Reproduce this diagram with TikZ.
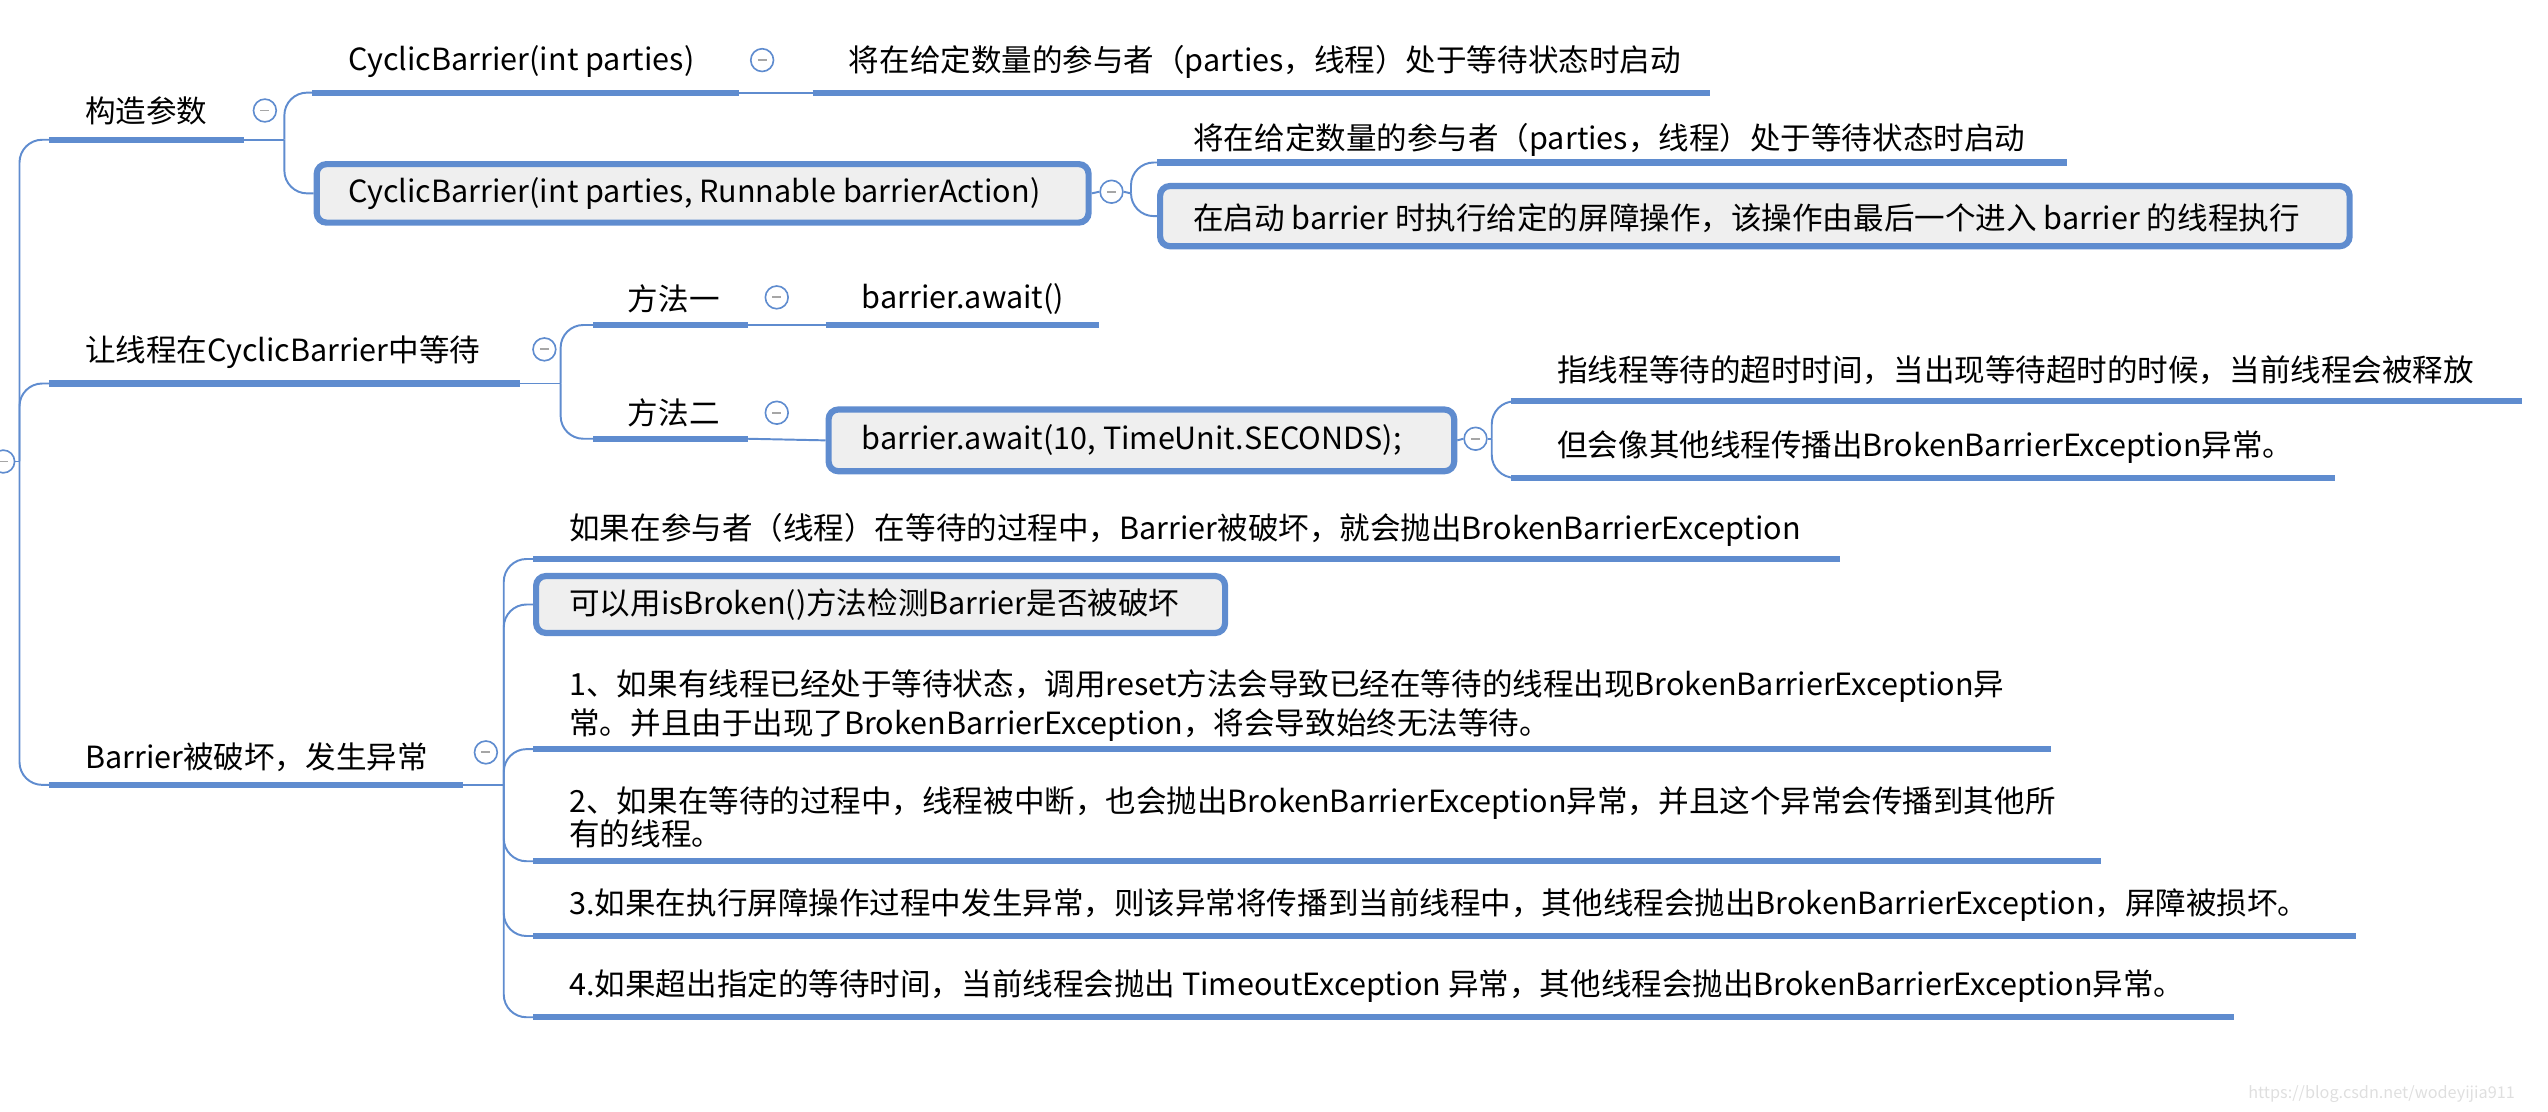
\documentclass[tikz,border=0pt]{standalone}
\usepackage{fontspec}
\setmainfont{Noto Sans CJK SC}
\definecolor{mb}{HTML}{5F8CCF}
\definecolor{bx}{HTML}{EFEFEF}
\begin{document}
\begin{tikzpicture}[x=0.5pt,y=-0.5pt,font=\fontsize{9.4}{12}\selectfont,
  ul/.style={draw=mb,line width=1.9pt},
  cn/.style={draw=mb,line width=0.6pt,rounded corners=7pt},
  tx/.style={anchor=west,inner sep=0pt},
  bb/.style={draw=mb,line width=1.9pt,fill=bx,rounded corners=3pt},
  cc/.style={circle,draw=mb,line width=0.5pt,fill=white,minimum size=7pt,inner sep=0pt,
    path picture={\draw[gray!70,line width=0.6pt] ([xshift=-1.4pt]path picture bounding box.center)--([xshift=1.4pt]path picture bounding box.center);}}]
\useasboundingbox (0,0) rectangle (1568,684);
% root
\node[cc] (root) at (2,284) {};
\coordinate (rj) at (12,284);
\draw[cn] (root.east)--(rj);
% branch 1
\coordinate (b1s) at (30,86); \coordinate (b1e) at (150,86);
\draw[ul] (b1s)--(b1e);
\node[tx] (b1t) at (52,68) {构造参数};
\node[cc] (b1c) at (163,68) {};
\coordinate (b1j) at (175,86);
\draw[cn] (b1e)--(b1j);
% child 1.1
\coordinate (c11s) at (192,57); \coordinate (c11e) at (455,57);
\draw[ul] (c11s)--(c11e);
\node[tx] (c11t) at (214,38) {CyclicBarrier(int parties)};
\node[cc] (c11c) at (469,37) {};
\coordinate (l11s) at (500,57); \coordinate (l11e) at (1052,57);
\draw[ul] (l11s)--(l11e);
\draw[cn] (c11e)--(l11s);
\node[tx] (l11t) at (522,38) {将在给定数量的参与者（parties，线程）处于等待状态时启动};
% child 1.2
\node[bb,minimum width=237.5pt,minimum height=18pt,anchor=west] (c12) at (193,119) {};
\node[tx] (c12t) at (214,119) {CyclicBarrier(int parties, Runnable barrierAction)};
\node[cc] (c12c) at (684,118) {};
\draw[cn] (c12.east)--(c12c.west);
\coordinate (c12j) at (696,119);
\draw[cn] (c12c.east)--(c12j);
\coordinate (l12s) at (712,100); \coordinate (l12e) at (1272,100);
\draw[ul] (l12s)--(l12e);
\node[tx] (l12t) at (734,86) {将在给定数量的参与者（parties，线程）处于等待状态时启动};
\node[bb,minimum width=366pt,minimum height=18.5pt,anchor=west] (l13) at (712,133) {};
\node[tx] (l13t) at (734,134) {在启动 barrier 时执行给定的屏障操作，该操作由最后一个进入 barrier 的线程执行};
\draw[cn] (c12j) |- (l12s);
\draw[cn] (c12j) |- (l13.west);
\draw[cn] (b1j) |- (c11s);
\draw[cn] (b1j) |- (c12.west);
% branch 2
\coordinate (b2s) at (30,236); \coordinate (b2e) at (320,236);
\draw[ul] (b2s)--(b2e);
\node[tx] (b2t) at (52,217) {让线程在CyclicBarrier中等待};
\node[cc] (b2c) at (335,215) {};
\coordinate (b2j) at (345,236);
\draw[cn] (b2e)--(b2j);
\coordinate (m1s) at (365,200); \coordinate (m1e) at (460,200);
\draw[ul] (m1s)--(m1e);
\node[tx] (m1t) at (386,184) {方法一};
\node[cc] (m1c) at (478,183) {};
\coordinate (a1s) at (508,200); \coordinate (a1e) at (676,200);
\draw[ul] (a1s)--(a1e);
\draw[cn] (m1e)--(a1s);
\node[tx] (a1t) at (530,184) {barrier.await()};
\coordinate (m2s) at (365,270); \coordinate (m2e) at (460,270);
\draw[ul] (m2s)--(m2e);
\node[tx] (m2t) at (386,254) {方法二};
\node[cc] (m2c) at (478,254) {};
\node[bb,minimum width=192.5pt,minimum height=19pt,anchor=west] (a2) at (508,271) {};
\draw[cn] (m2e)--(a2.west);
\node[tx] (a2t) at (530,271) {barrier.await(10, TimeUnit.SECONDS);};
\node[cc] (a2c) at (908,270) {};
\draw[cn] (a2.east)--(a2c.west);
\coordinate (a2j) at (918,270);
\draw[cn] (a2c.east)--(a2j);
\coordinate (d1s) at (930,247); \coordinate (d1e) at (1552,247);
\draw[ul] (d1s)--(d1e);
\node[tx] (d1t) at (958,228) {指线程等待的超时时间，当出现等待超时的时候，当前线程会被释放};
\coordinate (d2s) at (930,294); \coordinate (d2e) at (1437,294);
\draw[ul] (d2s)--(d2e);
\node[tx] (d2t) at (958,275) {但会像其他线程传播出BrokenBarrierException异常。};
\draw[cn] (a2j) |- (d1s);
\draw[cn] (a2j) |- (d2s);
\draw[cn] (b2j) |- (m1s);
\draw[cn] (b2j) |- (m2s);
% branch 3
\coordinate (b3s) at (30,483); \coordinate (b3e) at (285,483);
\draw[ul] (b3s)--(b3e);
\node[tx] (b3t) at (52,466) {Barrier被破坏，发生异常};
\node[cc] (b3c) at (299,463) {};
\coordinate (b3j) at (310,483);
\draw[cn] (b3e)--(b3j);
\coordinate (e1s) at (328,344); \coordinate (e1e) at (1132,344);
\draw[ul] (e1s)--(e1e);
\node[tx] (e1t) at (350,326) {如果在参与者（线程）在等待的过程中，Barrier被破坏，就会抛出BrokenBarrierException};
\node[bb,minimum width=212pt,minimum height=17.5pt,anchor=west] (e2) at (328,372) {};
\node[tx] (e2t) at (350,372) {可以用isBroken()方法检测Barrier是否被破坏};
\coordinate (e3s) at (328,461); \coordinate (e3e) at (1262,461);
\draw[ul] (e3s)--(e3e);
\node[tx] (e3t) at (350,422) {1、如果有线程已经处于等待状态，调用reset方法会导致已经在等待的线程出现BrokenBarrierException异};
\node[tx] (e3u) at (350,446) {常。并且由于出现了BrokenBarrierException，将会导致始终无法等待。};
\coordinate (e4s) at (328,530); \coordinate (e4e) at (1293,530);
\draw[ul] (e4s)--(e4e);
\node[tx] (e4t) at (350,494) {2、如果在等待的过程中，线程被中断，也会抛出BrokenBarrierException异常，并且这个异常会传播到其他所};
\node[tx] (e4u) at (350,513) {有的线程。};
\coordinate (e5s) at (328,576); \coordinate (e5e) at (1450,576);
\draw[ul] (e5s)--(e5e);
\node[tx] (e5t) at (350,557) {3.如果在执行屏障操作过程中发生异常，则该异常将传播到当前线程中，其他线程会抛出BrokenBarrierException，屏障被损坏。};
\coordinate (e6s) at (328,626); \coordinate (e6e) at (1375,626);
\draw[ul] (e6s)--(e6e);
\node[tx] (e6t) at (350,607) {4.如果超出指定的等待时间，当前线程会抛出 TimeoutException 异常，其他线程会抛出BrokenBarrierException异常。};
\foreach \t in {e1s,e2.west,e3s,e4s,e5s,e6s} \draw[cn] (b3j) |- (\t);
% trunk
\foreach \t in {b1s,b2s,b3s} \draw[cn] (rj) |- (\t);
\node[anchor=east,inner sep=0pt,text=gray!25,font=\fontsize{5}{6}\selectfont] (wm) at (1548,673) {https://blog.csdn.net/wodeyijia911};
\end{tikzpicture}
\end{document}
